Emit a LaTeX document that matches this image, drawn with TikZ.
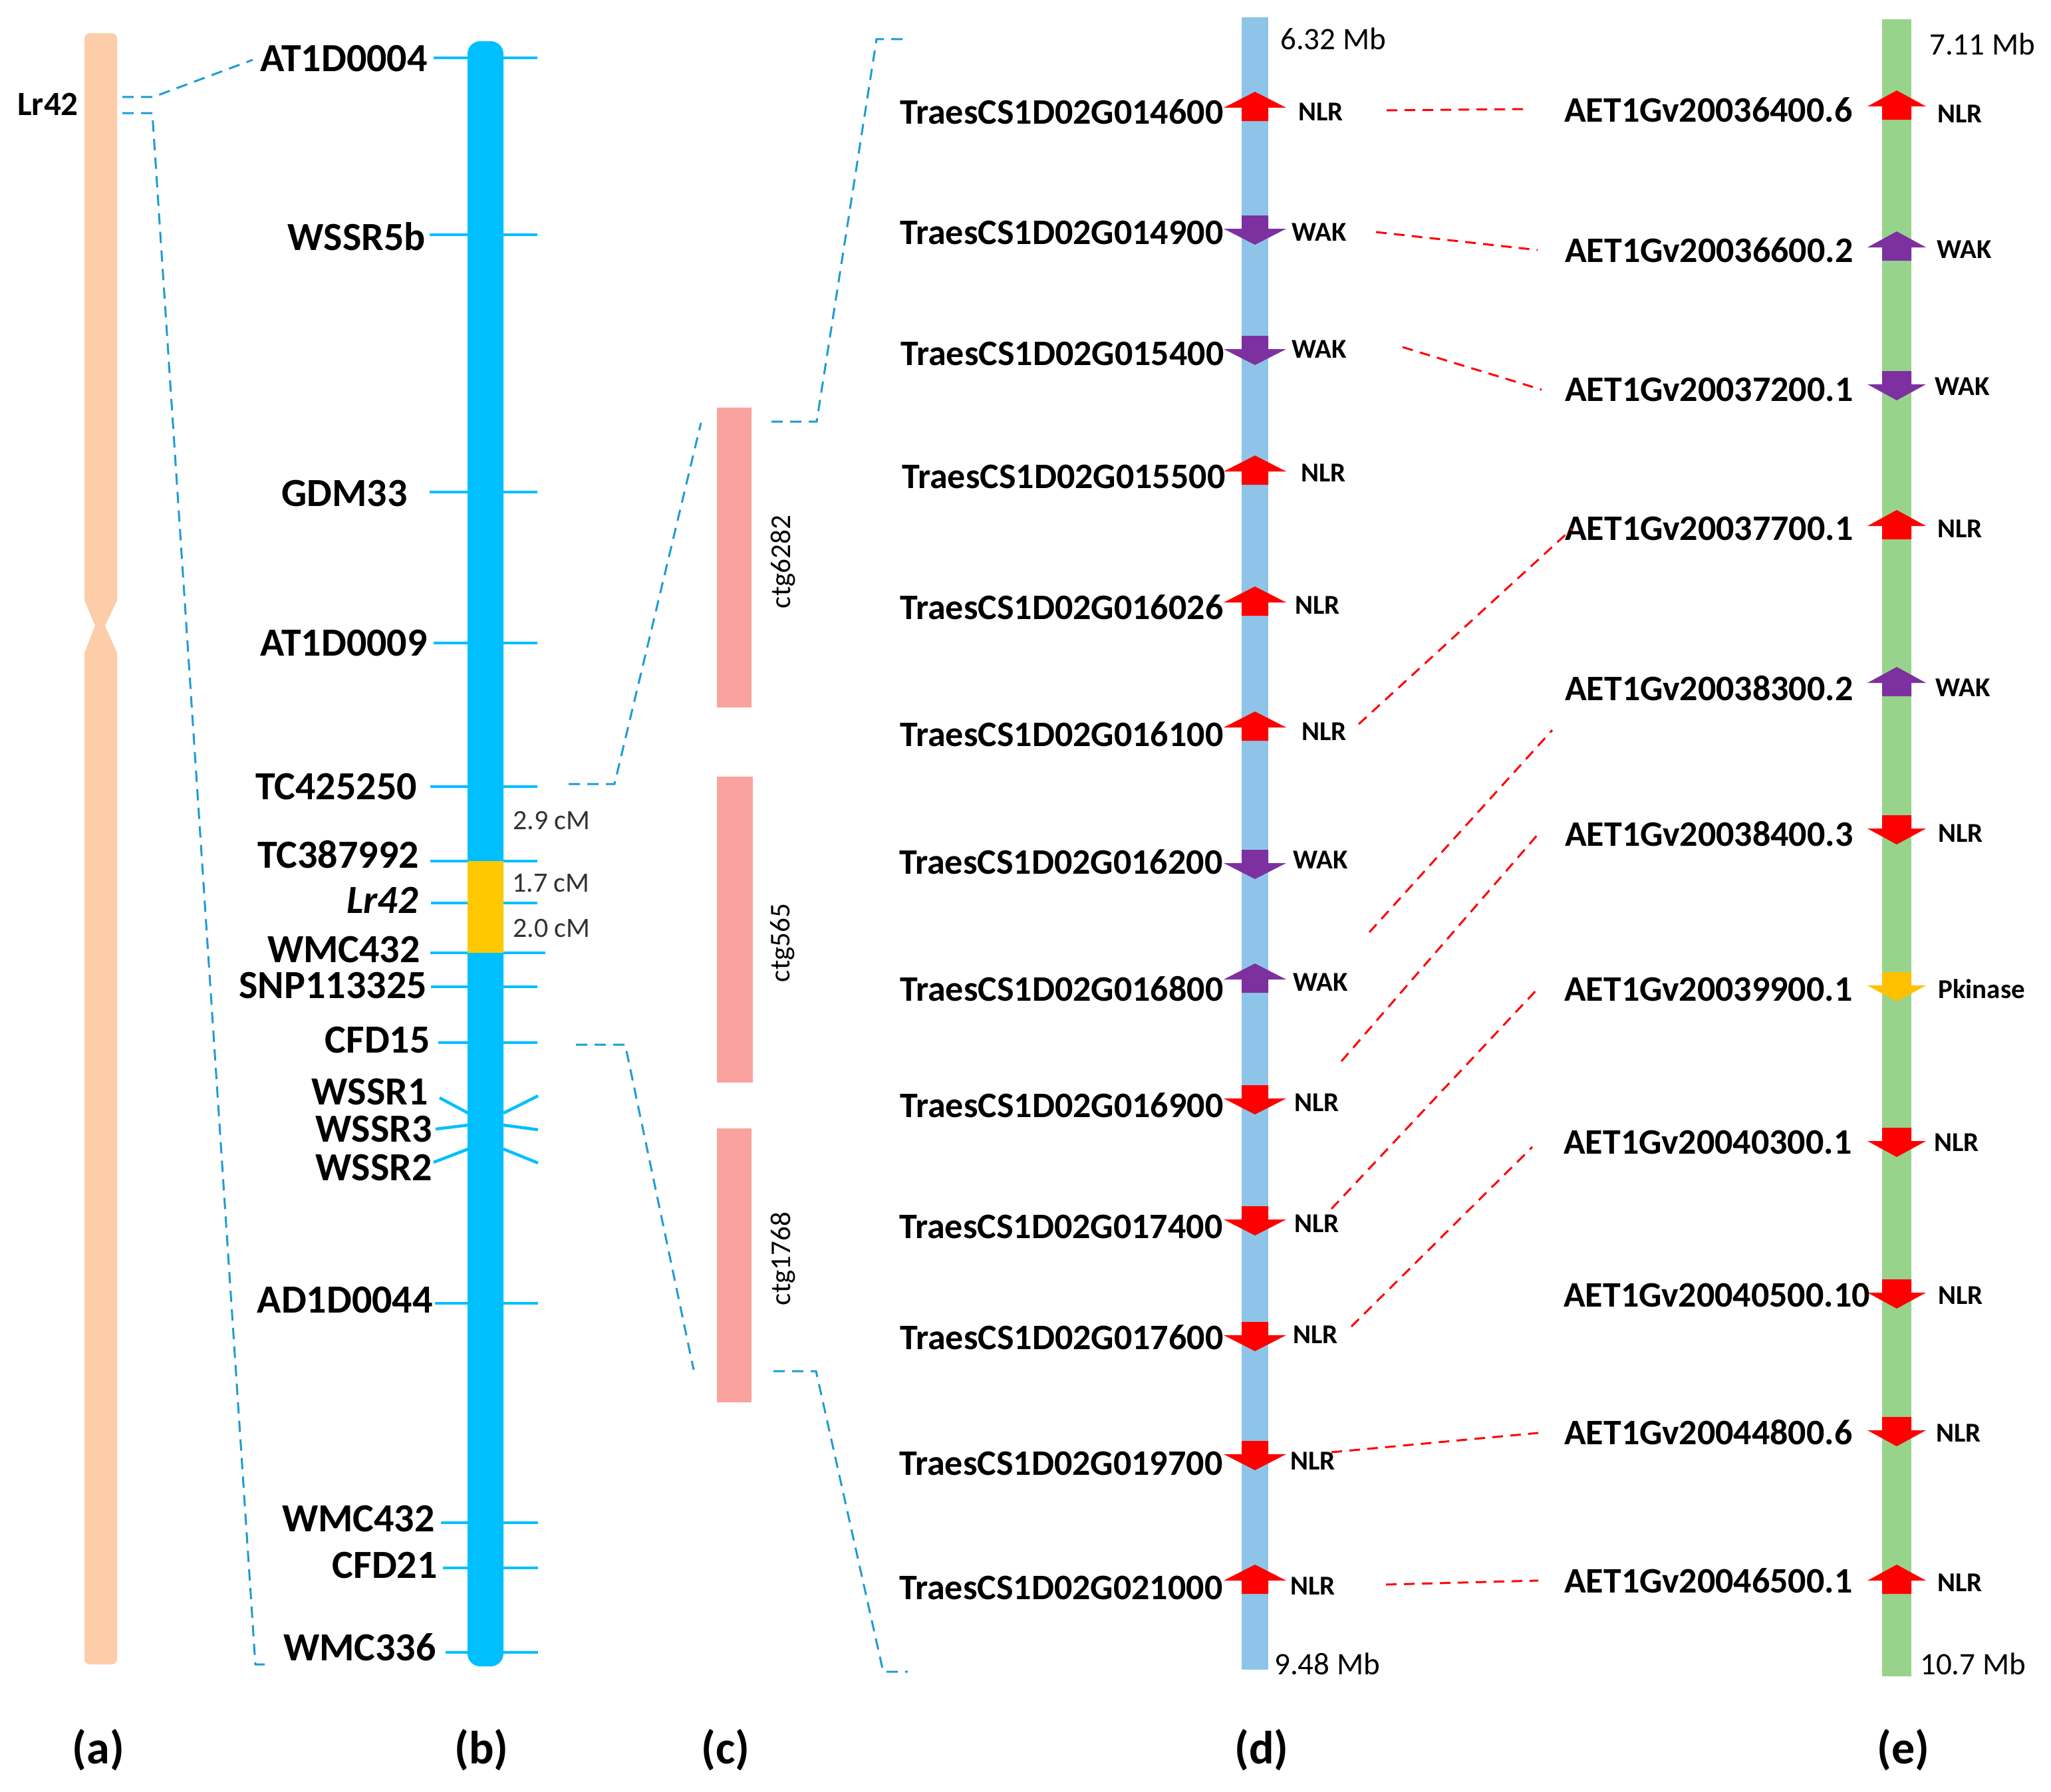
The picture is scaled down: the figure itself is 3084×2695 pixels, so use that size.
\documentclass[tikz,border=0pt]{standalone}
\usepackage{fontspec}
\setmainfont{Carlito}
\definecolor{peach}{RGB}{253,204,168}
\definecolor{cyanb}{RGB}{0,191,255}
\definecolor{goldb}{RGB}{255,200,0}
\definecolor{pinkc}{RGB}{250,162,158}
\definecolor{blued}{RGB}{142,196,232}
\definecolor{greene}{RGB}{152,211,140}
\definecolor{redarr}{RGB}{255,0,0}
\definecolor{purparr}{RGB}{125,48,160}
\definecolor{yelarr}{RGB}{255,192,0}
\definecolor{dashblue}{RGB}{30,155,215}
\definecolor{cmgray}{RGB}{50,50,50}
% up / down gene arrows: #1 cx, #2 wing y, #3 head half width, #4 colour, #5 shaft half width
\newcommand\geneup[5]{\fill[#4] ({#1-#5},{#2+20}) -- ({#1-#5},#2) -- ({#1-#3},#2) -- (#1,{#2-24}) -- ({#1+#3},#2) -- ({#1+#5},#2) -- ({#1+#5},{#2+20}) -- cycle;}
\newcommand\genedown[5]{\fill[#4] ({#1-#5},{#2-20}) -- ({#1-#5},#2) -- ({#1-#3},#2) -- (#1,{#2+24}) -- ({#1+#3},#2) -- ({#1+#5},#2) -- ({#1+#5},{#2-20}) -- cycle;}
\begin{document}
\begin{tikzpicture}[x=1pt,y=-1pt,
  mk/.style={font=\fontsize{60}{60}\selectfont\bfseries, anchor=east, inner sep=0pt, text height=38pt, text depth=0pt},
  gene/.style={font=\fontsize{54}{54}\selectfont\bfseries, anchor=west, inner sep=0pt, text height=34pt, text depth=0pt},
  tag/.style={font=\fontsize{41}{41}\selectfont\bfseries, anchor=west, inner sep=0pt, text height=26pt, text depth=0pt},
  mb/.style={font=\fontsize{47}{47}\selectfont, anchor=west, inner sep=0pt, text height=30pt, text depth=0pt},
  cmlab/.style={font=\fontsize{42}{42}\selectfont, text=cmgray, anchor=west, inner sep=0pt, text height=27pt, text depth=0pt},
  panel/.style={font=\fontsize{70}{70}\selectfont\bfseries, anchor=base, inner sep=0pt},
  ctg/.style={font=\fontsize{43}{43}\selectfont, rotate=90, inner sep=0pt},
  tickb/.style={draw=cyanb, line width=4.5pt},
  dashb/.style={draw=dashblue, line width=3pt, dash pattern=on 17pt off 11pt},
  dashr/.style={draw=redarr, line width=3pt, dash pattern=on 16pt off 11pt}]
\useasboundingbox (0,0) rectangle (3084,2695);
\fill[white] (0,0) rectangle (3084,2695);

% ---------------- (a) chromosome ----------------
\fill[peach, rounded corners=8pt] (127,903) -- (127,50) -- (176,50) -- (176,903) -- cycle;
\fill[peach] (127,895) -- (176,895) -- (176,903) -- (158,941) -- (176,982) -- (176,990) -- (127,990) -- (127,982) -- (143,941) -- (127,903) -- cycle;
\fill[peach, rounded corners=8pt] (127,982) rectangle (176,2503);
\node[font=\fontsize{51}{51}\selectfont\bfseries, anchor=east, inner sep=0pt, text height=32pt, text depth=0pt] (lra) at (118,158) {Lr42};

% ---------------- (b) linkage map ----------------
\foreach \yy/\xl/\xr in {87/652/808, 353/646/808, 740/646/808, 967/652/808, 1183/647/808, 1295/647/808, 1358/648/808, 1433/647/820, 1484/648/808, 1568/659/808, 1960/654/809, 2290/663/809, 2358/666/809, 2485/670/809}
  \draw[tickb] (\xl,\yy) -- (\xr,\yy);
\draw[tickb] (661,1651) -- (704,1674);
\draw[tickb] (655,1698) -- (704,1692);
\draw[tickb] (652,1748) -- (704,1728);
\draw[tickb] (757,1674) -- (809,1648);
\draw[tickb] (757,1692) -- (809,1699);
\draw[tickb] (757,1728) -- (809,1749);
\fill[cyanb, rounded corners=19pt] (703,62) rectangle (757,2506);
\fill[goldb] (703,1295) rectangle (757,1433);

\node[mk] (b1) at (643,89) {AT1D0004};
\node[mk] (b2) at (640,357) {WSSR5b};
\node[mk] (b3) at (613,742) {GDM33};
\node[mk] (b4) at (643,967) {AT1D0009};
\node[mk] (b5) at (627,1183) {TC425250};
\node[mk] (b6) at (630,1286) {TC387992};
\node[mk, font=\fontsize{60}{60}\selectfont\bfseries\itshape] (b7) at (629,1354) {Lr42};
\node[mk] (b8) at (632,1428) {WMC432};
\node[mk] (b9) at (642,1482) {SNP113325};
\node[mk] (b10) at (647,1564) {CFD15};
\node[mk] (b11) at (644,1642) {WSSR1};
\node[mk] (b12) at (650,1698) {WSSR3};
\node[mk] (b13) at (650,1756) {WSSR2};
\node[mk] (b14) at (651,1955) {AD1D0044};
\node[mk] (b15) at (654,2284) {WMC432};
\node[mk] (b16) at (658,2354) {CFD21};
\node[mk] (b17) at (656,2478) {WMC336};

\node[cmlab] (cm1) at (771,1234) {2.9 cM};
\node[cmlab] (cm2) at (770,1328) {1.7 cM};
\node[cmlab] (cm3) at (771,1396) {2.0 cM};

% ---------------- (c) contigs ----------------
\fill[pinkc] (1078,613) rectangle (1130,1064);
\fill[pinkc] (1078,1168) rectangle (1132,1628);
\fill[pinkc] (1078,1697) rectangle (1130,2109);
\node[ctg] (c1) at (1177,845) {ctg6282};
\node[ctg] (c2) at (1177,1418) {ctg565};
\node[ctg] (c3) at (1177,1893) {ctg1768};

% ---------------- (d) physical map ----------------
\fill[blued] (1867,26) rectangle (1907,2511);
\geneup{1887}{162}{47}{redarr}{20}
\genedown{1887}{344}{47}{purparr}{20}
\genedown{1887}{525}{47}{purparr}{20}
\geneup{1887}{709}{47}{redarr}{20}
\geneup{1887}{906}{47}{redarr}{20}
\geneup{1887}{1094}{47}{redarr}{20}
\genedown{1887}{1298}{47}{purparr}{20}
\geneup{1887}{1473}{47}{purparr}{20}
\genedown{1887}{1652}{47}{redarr}{20}
\genedown{1887}{1834}{47}{redarr}{20}
\genedown{1887}{2008}{47}{redarr}{20}
\genedown{1887}{2187}{47}{redarr}{20}
\geneup{1887}{2377}{47}{redarr}{20}

\node[mb] (mb1) at (1925,60) {6.32 Mb};
\node[mb] (mb2) at (1916,2503) {9.48 Mb};

\node[gene] (d1) at (1353,169) {TraesCS1D02G014600};
\node[gene] (d2) at (1353,350) {TraesCS1D02G014900};
\node[gene] (d3) at (1354,532) {TraesCS1D02G015400};
\node[gene] (d4) at (1356,717) {TraesCS1D02G015500};
\node[gene] (d5) at (1353,914) {TraesCS1D02G016026};
\node[gene] (d6) at (1353,1105) {TraesCS1D02G016100};
\node[gene] (d7) at (1352,1297) {TraesCS1D02G016200};
\node[gene] (d8) at (1353,1488) {TraesCS1D02G016800};
\node[gene] (d9) at (1353,1663) {TraesCS1D02G016900};
\node[gene] (d10) at (1352,1845) {TraesCS1D02G017400};
\node[gene] (d11) at (1353,2012) {TraesCS1D02G017600};
\node[gene] (d12) at (1352,2201) {TraesCS1D02G019700};
\node[gene] (d13) at (1352,2388) {TraesCS1D02G021000};

\node[tag] (t1) at (1952,168) {NLR};
\node[tag] (t2) at (1942,349) {WAK};
\node[tag] (t3) at (1942,525) {WAK};
\node[tag] (t4) at (1956,711) {NLR};
\node[tag] (t5) at (1947,910) {NLR};
\node[tag] (t6) at (1957,1100) {NLR};
\node[tag] (t7) at (1944,1293) {WAK};
\node[tag] (t8) at (1944,1477) {WAK};
\node[tag] (t9) at (1946,1658) {NLR};
\node[tag] (t10) at (1946,1840) {NLR};
\node[tag] (t11) at (1944,2007) {NLR};
\node[tag] (t12) at (1940,2197) {NLR};
\node[tag] (t13) at (1940,2385) {NLR};

% ---------------- (e) Ae. tauschii map ----------------
\fill[greene] (2830,29) rectangle (2874,2521);
\geneup{2852}{160}{44}{redarr}{22}
\geneup{2852}{372}{44}{purparr}{22}
\genedown{2852}{578}{44}{purparr}{22}
\geneup{2852}{791}{44}{redarr}{22}
\geneup{2852}{1027}{44}{purparr}{22}
\genedown{2852}{1246}{44}{redarr}{22}
\genedown{2852}{1482}{44}{yelarr}{22}
\genedown{2852}{1716}{44}{redarr}{22}
\genedown{2852}{1944}{44}{redarr}{22}
\genedown{2852}{2151}{44}{redarr}{22}
\geneup{2852}{2377}{44}{redarr}{22}

\node[mb] (mb3) at (2901,68) {7.11 Mb};
\node[mb] (mb4) at (2887,2503) {10.7 Mb};

\node[gene] (e1) at (2352,166) {AET1Gv20036400.6};
\node[gene] (e2) at (2353,377) {AET1Gv20036600.2};
\node[gene] (e3) at (2353,586) {AET1Gv20037200.1};
\node[gene] (e4) at (2353,795) {AET1Gv20037700.1};
\node[gene] (e5) at (2353,1036) {AET1Gv20038300.2};
\node[gene] (e6) at (2353,1255) {AET1Gv20038400.3};
\node[gene] (e7) at (2352,1488) {AET1Gv20039900.1};
\node[gene] (e8) at (2351,1718) {AET1Gv20040300.1};
\node[gene] (e9) at (2351,1948) {AET1Gv20040500.10};
\node[gene] (e10) at (2352,2155) {AET1Gv20044800.6};
\node[gene] (e11) at (2352,2378) {AET1Gv20046500.1};

\node[tag] (u1) at (2913,171) {NLR};
\node[tag] (u2) at (2912,375) {WAK};
\node[tag] (u3) at (2909,581) {WAK};
\node[tag] (u4) at (2913,795) {NLR};
\node[tag] (u5) at (2910,1034) {WAK};
\node[tag] (u6) at (2914,1253) {NLR};
\node[tag] (u7) at (2914,1488) {Pkinase};
\node[tag] (u8) at (2908,1718) {NLR};
\node[tag] (u9) at (2914,1948) {NLR};
\node[tag] (u10) at (2911,2155) {NLR};
\node[tag] (u11) at (2913,2380) {NLR};

% ---------------- blue dashed zoom connectors ----------------
\coordinate (pa1) at (184,146);  \coordinate (pa1k) at (230,146);  \coordinate (pb1) at (380,90);
\coordinate (pa2) at (184,170);  \coordinate (pa2k) at (229,170);  \coordinate (pb2k) at (384,2503); \coordinate (pb2) at (408,2503);
\draw[dashb] (pa1) -- (pa1k) -- (pb1);
\draw[dashb] (pa2) -- (pa2k) -- (pb2k) -- (pb2);
\coordinate (qb1) at (855,1179); \coordinate (qb1k) at (924,1179); \coordinate (qc1) at (1054,636);
\coordinate (qb2) at (866,1571); \coordinate (qb2k) at (940,1571); \coordinate (qc2) at (1043,2060);
\draw[dashb] (qb1) -- (qb1k) -- (qc1);
\draw[dashb] (qb2) -- (qb2k) -- (qc2);
\coordinate (rc1) at (1160,634); \coordinate (rc1k) at (1228,634); \coordinate (rd1k) at (1318,59); \coordinate (rd1) at (1368,59);
\coordinate (rc2) at (1163,2062); \coordinate (rc2k) at (1227,2062); \coordinate (rd2k) at (1328,2514); \coordinate (rd2) at (1365,2514);
\draw[dashb] (rc1) -- (rc1k) -- (rd1k) -- (rd1);
\draw[dashb] (rc2) -- (rc2k) -- (rd2k) -- (rd2);

% ---------------- red dashed orthologue links ----------------
\coordinate (s1) at (2085,166);  \coordinate (f1) at (2300,164);
\coordinate (s2) at (2069,349);  \coordinate (f2) at (2312,376);
\coordinate (s3) at (2109,522);  \coordinate (f3) at (2318,586);
\coordinate (s4) at (2043,1089); \coordinate (f4) at (2364,795);
\coordinate (s5) at (2059,1402); \coordinate (f5) at (2334,1098);
\coordinate (s6) at (2017,1596); \coordinate (f6) at (2314,1253);
\coordinate (s7) at (2002,1818); \coordinate (f7) at (2314,1485);
\coordinate (s8) at (2032,1995); \coordinate (f8) at (2304,1725);
\coordinate (s9) at (2002,2184); \coordinate (f9) at (2313,2155);
\coordinate (s10) at (2084,2383); \coordinate (f10) at (2313,2377);
\foreach \i in {1,...,10} \draw[dashr] (s\i) -- (f\i);

% ---------------- panel letters ----------------
\node[panel] (pa) at (148,2652) {(a)};
\node[panel] (pb) at (724,2652) {(b)};
\node[panel] (pc) at (1091,2652) {(c)};
\node[panel] (pd) at (1897,2652) {(d)};
\node[panel] (pe) at (2862,2652) {(e)};
\end{tikzpicture}
\end{document}
